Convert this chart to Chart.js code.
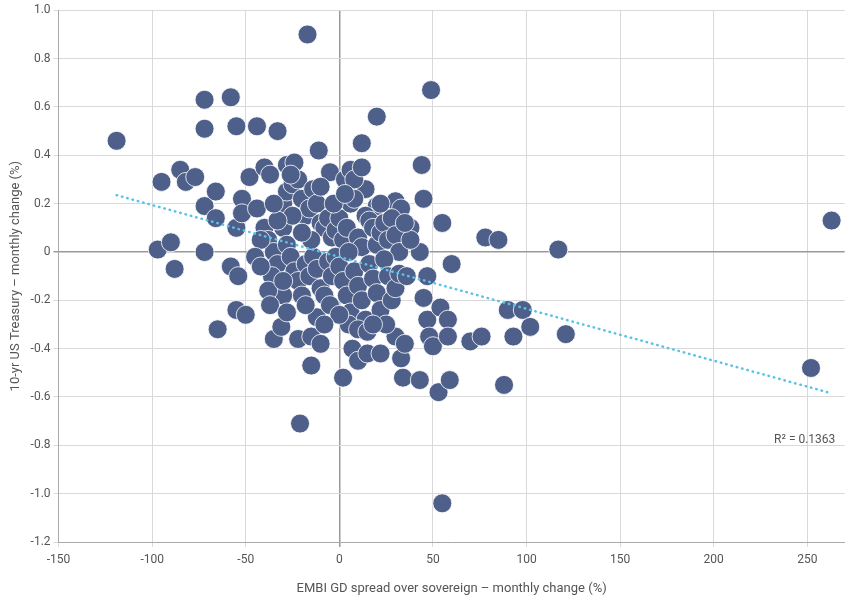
<!DOCTYPE html>
<html><head><meta charset="utf-8">
<script src="https://cdn.jsdelivr.net/npm/chart.js@4/dist/chart.umd.min.js"></script>
<style>html,body{margin:0;padding:0;background:#fff}#w{width:855px;height:603px}</style>
</head><body><div id="w"><canvas id="c"></canvas></div>
<script>
const xTicks=[-150,-100,-50,0,50,100,150,200,250];
const yTicks=[-1.2,-1.0,-0.8,-0.6,-0.4,-0.2,0,0.2,0.4,0.6,0.8,1.0];
const spreadChange=[-119,-17,-72,-58,-72,-55,-44,-33,49,20,12,-95,-85,-82,-77,-72,-66,-66,-55,-52,-52,-48,-44,-40,-37,-28,-24,-11,-5,3,6,14,20,30,33,38,44,45,55,43,60,78,85,117,263,-97,-90,-88,-72,-58,-55,-54,-65,-50,-35,-31,-30,-22,-21,-15,-15,-12,-10,2,7,10,15,22,30,33,34,35,43,47,48,47,45,50,53,54,55,58,58,59,70,76,88,90,93,98,102,121,252,
-40,-38,-35,-33,-36,-38,-37,-30,-28,-25,-22,-20,-18,-16,-14,-12,-10,-8,-6,-4,-2,0,2,4,6,8,10,12,14,16,18,20,22,24,26,28,30,32,-30,-28,-26,-24,-22,-20,-18,-16,-14,-12,-10,-8,-6,-4,-2,0,2,4,6,8,10,12,14,16,18,20,22,24,26,28,30,32,5,10,15,25,-5,0,-25,-33,-42,-45,-42,-28,-18,-10,-15,-20,5,8,12,-3,18,36,38,35,-30,-26,-35,-8,3,22];
const treasuryChange=[0.46,0.90,0.63,0.64,0.51,0.52,0.52,0.50,0.67,0.56,0.45,0.29,0.34,0.29,0.31,0.19,0.25,0.14,0.10,0.22,0.16,0.31,0.18,0.35,0.32,0.36,0.37,0.42,0.33,0.30,0.34,0.26,0.19,0.21,0.18,0.10,0.36,0.22,0.12,0.0,-0.05,0.06,0.05,0.01,0.13,0.01,0.04,-0.07,0.0,-0.06,-0.24,-0.10,-0.32,-0.26,-0.36,-0.31,-0.18,-0.36,-0.71,-0.35,-0.47,-0.27,-0.38,-0.52,-0.40,-0.45,-0.42,-0.42,-0.35,-0.44,-0.52,-0.38,-0.53,-0.28,-0.35,-0.10,-0.19,-0.39,-0.58,-0.23,-1.04,-0.28,-0.35,-0.53,-0.37,-0.35,-0.55,-0.24,-0.35,-0.24,-0.31,-0.34,-0.48,
0.10,0.05,0.00,-0.05,-0.10,-0.16,-0.22,0.20,0.25,0.28,0.30,0.22,0.15,0.18,0.26,0.20,0.12,0.10,0.14,0.06,0.09,0.14,0.05,0.10,0.20,0.22,0.06,0.02,0.15,0.13,0.10,0.03,0.08,0.12,0.05,0.14,0.07,0.00,0.10,0.03,-0.02,-0.08,-0.12,-0.18,-0.05,-0.10,-0.02,-0.07,-0.15,-0.18,-0.04,-0.10,-0.02,-0.06,-0.12,-0.18,-0.25,-0.08,-0.14,-0.20,-0.28,-0.05,-0.11,-0.17,-0.24,-0.03,-0.10,-0.20,-0.15,-0.09,-0.30,-0.32,-0.33,-0.30,-0.22,-0.26,0.15,0.13,0.05,-0.02,-0.06,-0.25,-0.22,0.27,0.05,0.08,0.00,0.30,0.35,0.20,-0.30,-0.10,0.05,0.12,-0.12,0.32,0.20,-0.30,0.24,0.20];
const trendX=[-119,263];
const trendY=[0.235,-0.585];
const rLabel='R² = 0.1363';
const pts=spreadChange.map((x,i)=>({x:x,y:treasuryChange[i]}));
const font={family:'Roboto',size:12};
const labelPlugin={id:'lbl',afterDatasetsDraw(ch){const c=ch.ctx,xs=ch.scales.x,ys=ch.scales.y;c.save();c.font='12px Roboto';c.fillStyle='#555';c.textAlign='right';c.textBaseline='middle';c.fillText(rLabel,xs.getPixelForValue(265),ys.getPixelForValue(-0.78));c.restore();}};
new Chart(document.getElementById('c'),{
 data:{datasets:[
  {type:'line',data:trendX.map((x,i)=>({x:x,y:trendY[i]})),borderColor:'#5bc2e7',borderWidth:2.5,borderDash:[0.5,5],borderCapStyle:'round',pointRadius:0,fill:false,order:0},
  {type:'scatter',data:pts,backgroundColor:'#4e6089',borderColor:'#ffffff',borderWidth:0.8,pointRadius:9.5,order:1}
 ]},
 options:{responsive:true,maintainAspectRatio:false,animation:false,
  layout:{padding:{left:4,right:0,top:4,bottom:6}},
  plugins:{legend:{display:false},tooltip:{enabled:false}},
  scales:{
   x:{type:'linear',min:-150,max:270,afterBuildTicks:a=>{a.ticks=xTicks.map(v=>({value:v}));},
    grid:{color:c=>c.tick&&c.tick.value===0?'#999':'#d9d9d9',lineWidth:c=>c.tick&&c.tick.value===0?1.5:1,drawTicks:true,tickLength:5},
    border:{color:'#aaa'},
    ticks:{font:font,color:'#555',padding:6},
    title:{display:true,text:'EMBI GD spread over sovereign – monthly change (%)',font:{family:'Roboto',size:13},color:'#555',padding:{top:8,bottom:0}}},
   y:{type:'linear',min:-1.2,max:1.0,afterBuildTicks:a=>{a.ticks=yTicks.map(v=>({value:v}));},
    grid:{color:c=>c.tick&&Math.abs(c.tick.value)<1e-9?'#999':'#d9d9d9',lineWidth:c=>c.tick&&Math.abs(c.tick.value)<1e-9?1.5:1,tickLength:5},
    border:{color:'#aaa'},
    ticks:{font:font,color:'#555',callback:v=>Math.abs(v)<1e-9?'0':v.toFixed(1)},
    title:{display:true,text:'10-yr US Treasury – monthly change (%)',font:{family:'Roboto',size:13},color:'#555'}}
  }},
 plugins:[labelPlugin]
});
</script></body></html>
